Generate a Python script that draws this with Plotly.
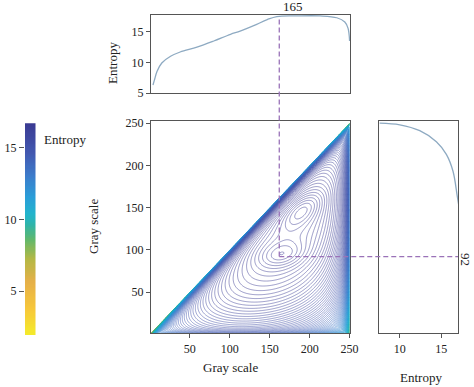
import numpy as np
import plotly.graph_objects as go

# ---------------- data ----------------
# top panel: entropy vs gray level t2
top_gray = [4, 5.75, 9, 15, 26, 38, 59, 80, 101, 113, 130, 147, 159, 184, 213, 234, 244, 248, 250]
top_entropy = [6.3, 7.1, 8.5, 9.9, 11.0, 11.7, 12.5, 13.5, 14.6, 15.1, 16.0, 17.0, 17.5, 17.6, 17.6, 17.3, 16.6, 15.6, 13.5]

# right panel: entropy vs gray level t1 (curve leaves the panel at right)
right_entropy = [7.58, 10.0, 12.4, 14.4, 15.6, 16.4, 16.92, 17.3]
right_gray = [250, 248, 241, 228, 213, 193, 163, 140]

# optimum markers
opt_t2_label = "165"
opt_t1_label = "92"
opt_t2_line = [162]
opt_t1_line = [92]

gray_ticks = [50, 100, 150, 200, 250]
top_entropy_ticks = [5, 10, 15]
right_entropy_ticks = [10, 15]
cbar_ticks = [5, 10, 15]
cbar_range = [1.93, 16.7]

# surface description (estimated from the contour picture)
grid_gray = list(range(1, 251))
ridge_center = [176, 118]
ridge_value = [17.6]
class_weights = [1.78, 0.68, 0.88]   # first, middle, last class
class_offsets = [60, 10, 14]
class_limits = [250]
surface_gain = [2.6]
edge_drops = [4.6, 2.2, 0.6]         # diagonal, right edge, bottom edge
edge_widths = [4.0, 3.5, 3.0]
peak_centers = [(165, 94), (191, 147)]
peak_heights = [0.45, 0.55]
peak_sigmas = [(20, 10), (20, 10)]
peak_angles = [10, 35]

contour_start, contour_end, contour_step = 2.0, 18.4, 0.12

# ---------------- build surface ----------------
def field(X, Y):
    a = Y
    b = np.maximum(X - Y, 0)
    c = np.maximum(class_limits[0] - X, 0)
    return (class_weights[0] * np.log(a + class_offsets[0])
            + class_weights[1] * np.log(b + class_offsets[1])
            + class_weights[2] * np.log(c + class_offsets[2]))

X, Y = np.meshgrid(np.array(grid_gray, float), np.array(grid_gray, float))
F0 = field(np.array(ridge_center[0], float), np.array(ridge_center[1], float))
Z = ridge_value[0] + surface_gain[0] * (field(X, Y) - F0)
pen_diag = edge_drops[0] * np.exp(-np.maximum(X - Y, 0) / edge_widths[0])
pen_right = edge_drops[1] * np.exp(-np.maximum(class_limits[0] - X, 0) / edge_widths[1])
pen_bottom = edge_drops[2] * np.exp(-(Y - 1) / edge_widths[2])
Z = Z - np.maximum(np.maximum(pen_diag, pen_right), pen_bottom)
for (cx, cy), h, (sa, sb), ang in zip(peak_centers, peak_heights, peak_sigmas, peak_angles):
    t = np.deg2rad(ang)
    u = (X - cx) * np.cos(t) + (Y - cy) * np.sin(t)
    v = -(X - cx) * np.sin(t) + (Y - cy) * np.cos(t)
    Z = Z + h * np.exp(-((u / sa) ** 2 + (v / sb) ** 2) / 2)
Zl = Z.astype(object)
Zl[Y > X] = None
z_list = Zl.tolist()

# reversed parula-like colorscale
cscale = [
    [0.0, "#f4ec2a"], [0.12, "#f7c83a"], [0.25, "#e6b048"], [0.36, "#b3b845"],
    [0.45, "#62b86a"], [0.52, "#2fb4a8"], [0.57, "#22b4cc"], [0.65, "#2a9ed8"],
    [0.75, "#3c7ccb"], [0.86, "#4258b0"], [1.0, "#3a3a92"],
]

W, H = 474, 387
def px(xp):
    return xp / W
def py(yp):
    return 1 - yp / H

main_xd = [px(151), px(350)]
main_yd = [py(333), py(121)]
top_yd = [py(93), py(15)]
right_xd = [px(379), px(458)]
cb_xd = [px(25), px(35.5)]
cb_yd = [py(335), py(123.3)]

x_range = [1.5, 250.5]
y_range = [1.5, 252.5]
top_range = [5, 17.75]
right_range = [7.5, 17.0]

font = dict(family="Liberation Serif, Times New Roman, serif", size=12, color="#222")
axcol = "#555555"

fig = go.Figure()

fig.add_trace(go.Contour(
    x=grid_gray, y=grid_gray, z=z_list,
    colorscale=cscale, zmin=cbar_range[0], zmax=cbar_range[1], zauto=False,
    autocontour=False,
    contours=dict(start=contour_start, end=contour_end, size=contour_step, coloring="lines"),
    line=dict(width=0.5), showscale=False, connectgaps=False,
    xaxis="x", yaxis="y", hoverinfo="skip",
))

fig.add_trace(go.Scatter(x=top_gray, y=top_entropy, mode="lines",
                         line=dict(color="#8eaac2", width=1.3, shape="spline"),
                         xaxis="x2", yaxis="y2", hoverinfo="skip"))
fig.add_trace(go.Scatter(x=right_entropy, y=right_gray, mode="lines",
                         line=dict(color="#8eaac2", width=1.3, shape="spline"),
                         xaxis="x3", yaxis="y3", hoverinfo="skip"))

cb_vals = list(np.linspace(cbar_range[0], cbar_range[1], 200))
fig.add_trace(go.Heatmap(x=[0], y=cb_vals, z=[[v] for v in cb_vals],
                         colorscale=cscale, zmin=cbar_range[0], zmax=cbar_range[1],
                         showscale=False, xaxis="x4", yaxis="y4", hoverinfo="skip"))

box = dict(showline=True, linecolor=axcol, linewidth=1.3, mirror=True, showgrid=False,
           zeroline=False, ticks="outside", tickcolor=axcol, ticklen=4, tickfont=font,
           automargin=False)

fig.update_layout(
    width=W, height=H, margin=dict(l=0, r=0, t=0, b=0, pad=0, autoexpand=False),
    paper_bgcolor="white", plot_bgcolor="white", showlegend=False, font=font,
    xaxis=dict(box, domain=main_xd, range=x_range, tickvals=gray_ticks, anchor="y"),
    yaxis=dict(box, domain=main_yd, range=y_range, tickvals=gray_ticks, anchor="x"),
    xaxis2=dict(box, domain=main_xd, range=x_range, showticklabels=False, ticks="", anchor="y2"),
    yaxis2=dict(box, domain=top_yd, range=top_range, tickvals=top_entropy_ticks, anchor="x2"),
    xaxis3=dict(box, domain=right_xd, range=right_range, tickvals=right_entropy_ticks, anchor="y3"),
    yaxis3=dict(box, domain=main_yd, range=y_range, showticklabels=False, ticks="", anchor="x3"),
    xaxis4=dict(domain=cb_xd, visible=False, anchor="y4", automargin=False),
    yaxis4=dict(domain=cb_yd, range=cbar_range, tickvals=cbar_ticks, ticks="outside",
                ticklen=5, tickcolor=axcol, showline=False, showgrid=False, zeroline=False,
                tickfont=font, anchor="x4", automargin=False),
)

def y_to_paper(v):
    return main_yd[0] + (v - y_range[0]) / (y_range[1] - y_range[0]) * (main_yd[1] - main_yd[0])
def x_to_paper(v):
    return main_xd[0] + (v - x_range[0]) / (x_range[1] - x_range[0]) * (main_xd[1] - main_xd[0])

dash = dict(color="#9a72b8", width=1.3, dash="5px,3px")
fig.add_shape(type="line", xref="x", yref="paper", x0=opt_t2_line[0], x1=opt_t2_line[0],
              y0=y_to_paper(opt_t1_line[0]), y1=top_yd[1] - 0.006, line=dash)
fig.add_shape(type="line", xref="paper", yref="y", x0=x_to_paper(opt_t2_line[0]), x1=right_xd[1],
              y0=opt_t1_line[0], y1=opt_t1_line[0], line=dash)

tfont = dict(family="Liberation Serif, Times New Roman, serif", size=13, color="#222")
def note(text, x, y, angle=0, xanchor="center"):
    return dict(text=text, x=px(x), y=py(y), xref="paper", yref="paper", showarrow=False,
                font=tfont, textangle=angle, xanchor=xanchor, yanchor="middle")
ann = [
    note("Gray scale", 230, 367),
    note("Gray scale", 93, 227, -90),
    note("Entropy", 112, 63, -90),
    note("Entropy", 421, 377),
    note("Entropy", 42, 139, 0, "left"),
    note(opt_t2_label, 293, 7),
    note(opt_t1_label, 466, 259, 90),
]
fig.update_layout(annotations=ann)

fig.write_html("out.html", config={"displayModeBar": False},
               post_script="document.body.style.margin='0px';")
